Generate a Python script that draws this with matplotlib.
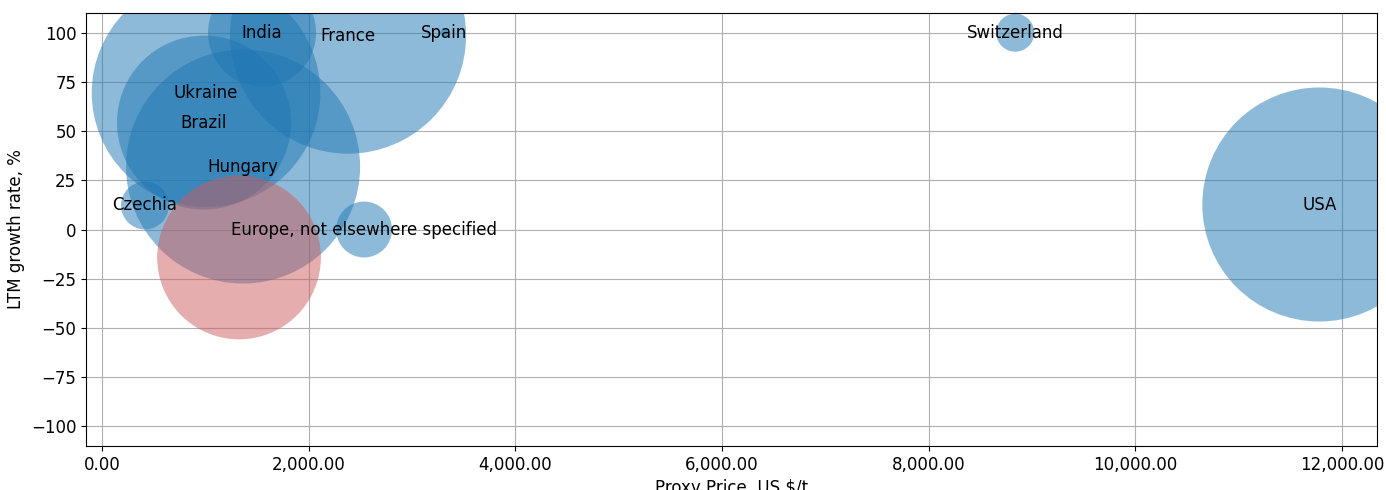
import matplotlib
matplotlib.use("Agg")
import matplotlib.pyplot as plt
from matplotlib.ticker import FuncFormatter

countries = ["Ukraine", "Brazil", "Hungary", "India", "France", "Spain",
             "Czechia", "Europe, not elsewhere specified", "", "Switzerland", "USA"]
proxy_price = [1007, 987, 1365, 1549, 2381, 3311, 416, 2536, 1326, 8838, 11781]
growth_rate = [69.5, 54.3, 32.0, 100.0, 98.5, 100.0, 12.2, 0.0, -14.2, 100.0, 12.7]
bubble_size = [27100, 15700, 28400, 6050, 28900, 33, 1190, 1620, 13900, 750, 28400]
highlight = [False, False, False, False, False, False, False, False, True, False, False]

colors = ["#cd5c5c" if h else "#1f77b4" for h in highlight]

fig = plt.figure(figsize=(13.86, 4.9), dpi=100)
ax = fig.add_axes([86 / 1386, 1 - 446 / 490, (1377 - 86) / 1386, (446 - 13) / 490])

ax.scatter(proxy_price, growth_rate, s=bubble_size, c=colors, alpha=0.5, linewidths=0)
for name, x, y in zip(countries, proxy_price, growth_rate):
    if name:
        ax.text(x, y, name, ha="center", va="center", fontsize=12)

ax.set_xlim(-155, 12339)
ax.set_ylim(-110, 110)
ax.set_xticks(range(0, 12001, 2000))
ax.set_yticks(range(-100, 101, 25))
ax.xaxis.set_major_formatter(FuncFormatter(lambda v, p: f"{v:,.2f}"))
ax.tick_params(labelsize=12)
ax.grid(True)
ax.set_axisbelow(True)
ax.set_xlabel("Proxy Price, US $/t", fontsize=12)
ax.set_ylabel("LTM growth rate, %", fontsize=12)

fig.savefig("out.png", dpi=100)
